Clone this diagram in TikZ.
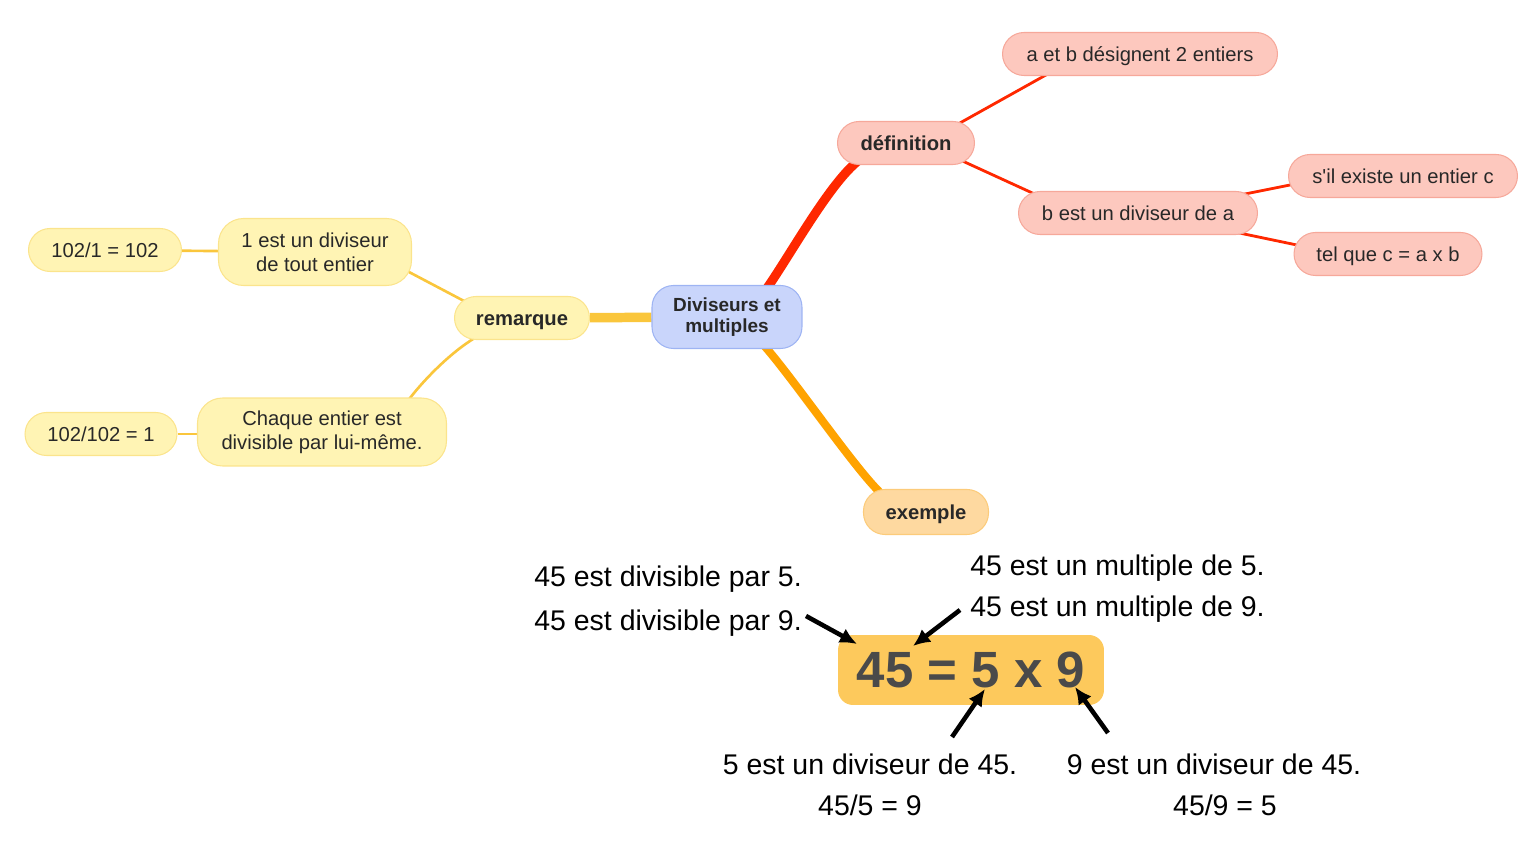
\documentclass[tikz,border=0pt]{standalone}
\usepackage{fontspec}
\setmainfont{Liberation Sans}[Ligatures=TeXOff]
\usepackage{tikz}
\usetikzlibrary{shapes, arrows, arrows.meta, positioning, calc, backgrounds}
\definecolor{bleu-fond}{RGB}{201,213,251}
\definecolor{bleu-bord}{RGB}{158,180,243}
\definecolor{rose-fond}{RGB}{253,200,190}
\definecolor{rose-bord}{RGB}{246,168,154}
\definecolor{jaune-fond}{RGB}{255,244,180}
\definecolor{jaune-bord}{RGB}{251,228,140}
\definecolor{orange-fond}{RGB}{254,217,160}
\definecolor{orange-bord}{RGB}{252,203,122}
\definecolor{egal-fond}{RGB}{253,201,92}
\definecolor{rouge-lien}{RGB}{255,40,0}
\definecolor{jaune-lien}{RGB}{250,198,60}
\definecolor{orange-lien}{RGB}{255,163,0}
\definecolor{texte}{RGB}{40,40,40}

\begin{document}
\begin{tikzpicture}[x=0.02cm, y=-0.02cm,
    bulle/.style={rounded corners=0.43cm, line width=0.6pt, inner sep=0pt, align=center,
        text=texte, font=\fontsize{11.5}{13.6}\selectfont},
    ligne/.style={text height=10.8pt, text depth=2.2pt},
    rose/.style={bulle, fill=rose-fond, draw=rose-bord, minimum height=0.86cm},
    jaune/.style={bulle, fill=jaune-fond, draw=jaune-bord, minimum height=0.86cm},
    legende/.style={inner sep=0pt, font=\fontsize{16.2}{19}\selectfont},
    fleche/.style={-{Latex[length=0.34cm, width=0.32cm]}, line width=2.6pt}]
    \useasboundingbox (0,0) rectangle (1536,864);

    % Noeud central
    \node[bulle, fill=bleu-fond, draw=bleu-bord, minimum width=3cm, minimum height=1.26cm,
        font=\bfseries\fontsize{10.8}{12}\selectfont] (centre) at (727,317) {Diviseurs et\\multiples};

    % Branche definition
    \node[rose, ligne, minimum width=2.74cm, font=\bfseries\fontsize{11.5}{13.6}\selectfont] (def) at (906,143) {définition};
    \node[rose, ligne, minimum width=5.5cm] (entiers) at (1140,54) {a et b désignent 2 entiers};
    \node[rose, ligne, minimum width=4.78cm] (diviseur) at (1138,213) {b est un diviseur de a};
    \node[rose, ligne, minimum width=4.58cm] (existe) at (1403,176) {s'il existe un entier c};
    \node[rose, ligne, minimum width=3.76cm] (telque) at (1388,254) {tel que c = a x b};

    % Branche remarque
    \node[jaune, ligne, minimum width=2.7cm, font=\bfseries\fontsize{11.5}{13.6}\selectfont] (rem) at (522,318) {remarque};
    \node[jaune, minimum width=3.86cm, minimum height=1.34cm, rounded corners=0.5cm] (unDiv) at (315,252) {1 est un diviseur\\de tout entier};
    \node[jaune, ligne, minimum width=3.06cm] (ex1) at (105,250) {102/1 = 102};
    \node[jaune, minimum width=4.98cm, minimum height=1.36cm, rounded corners=0.5cm] (chaque) at (322,432) {Chaque entier est\\divisible par lui-même.};
    \node[jaune, ligne, minimum width=3.04cm] (ex2) at (101,434) {102/102 = 1};

    % Branche exemple
    \node[bulle, ligne, fill=orange-fond, draw=orange-bord, minimum width=2.5cm, minimum height=0.9cm,
        font=\bfseries\fontsize{11.5}{13.6}\selectfont] (exemple) at (926,512) {exemple};
    \node[fill=egal-fond, rounded corners=0.3cm, minimum width=5.32cm, minimum height=1.4cm, inner sep=0pt,
        text={rgb,255:red,74;green,74;blue,74}, font=\bfseries\fontsize{29}{34}\selectfont] (egal) at (971,670) {45 = 5 x 9};

    % Textes autour de l'egalite
    \node[legende, anchor=west] (div5) at (534,579) {45 est divisible par 5.};
    \node[legende, anchor=west] (div9) at (534,623) {45 est divisible par 9.};
    \node[legende, anchor=west] (mul5) at (970,568) {45 est un multiple de 5.};
    \node[legende, anchor=west] (mul9) at (970,609) {45 est un multiple de 9.};
    \node[legende] (dv5) at (870,764) {5 est un diviseur de 45.};
    \node[legende] (q5) at (870,805) {45/5 = 9};
    \node[legende] (dv9) at (1214,764) {9 est un diviseur de 45.};
    \node[legende] (q9) at (1225,805) {45/9 = 5};

    % Fleches
    \coordinate (f1a) at (806,616); \coordinate (f1b) at (857,644);
    \coordinate (f2a) at (960,610); \coordinate (f2b) at (913,646);
    \coordinate (f3a) at (952,737); \coordinate (f3b) at (985,689);
    \coordinate (f4a) at (1108,733); \coordinate (f4b) at (1075,687);
    \draw[fleche] (f1a) -- (f1b);
    \draw[fleche] (f2a) -- (f2b);
    \draw[fleche] (f3a) -- (f3b);
    \draw[fleche] (f4a) -- (f4b);

    % Liens (sous les bulles)
    \begin{scope}[on background layer]
        \draw[rouge-lien, line width=5.2pt] ($(centre)+(38,-26)$) .. controls +(25,-35) and +(-30,20) .. ($(def)+(-44,15)$);
        \draw[orange-lien, line width=4.6pt] ($(centre)+(33,24)$) .. controls +(30,32) and +(-25,-20) .. ($(exemple)+(-41,-15)$);
        \draw[jaune-lien, line width=5.4pt] (rem) -- (centre);

        \draw[rouge-lien, line width=1.6pt] ($(def)+(36,-10)$) -- ($(entiers)+(-78,12)$);
        \draw[rouge-lien, line width=1.6pt] ($(def)+(39,10)$) -- ($(diviseur)+(-86,-11)$);
        \draw[rouge-lien, line width=1.6pt] ($(diviseur)+(92,-16)$) -- ($(existe)+(-93,5)$);
        \draw[rouge-lien, line width=1.6pt] ($(diviseur)+(87,17)$) -- ($(telque)+(-72,-5)$);

        \draw[jaune-lien, line width=1.5pt] ($(rem)+(-39,-7)$) -- ($(unDiv)+(75,10)$);
        \draw[jaune-lien, line width=1.5pt] ($(rem)+(-40,16)$) .. controls +(-30,15) and +(12,-18) .. ($(chaque)+(83,-27)$);
        \draw[jaune-lien, line width=1.5pt] (ex1) -- (unDiv);
        \draw[jaune-lien, line width=1.5pt] (ex2.east) -- (chaque.west |- ex2.east);
    \end{scope}
\end{tikzpicture}
\end{document}
